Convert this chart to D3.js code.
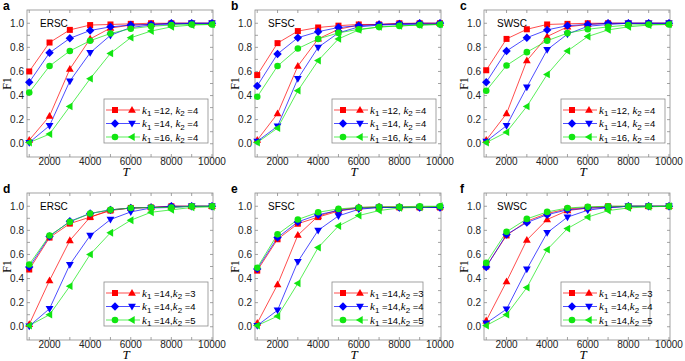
<!DOCTYPE html>
<html>
<head>
<meta charset="utf-8">
<script src="https://cdn.jsdelivr.net/npm/d3@7"></script>
<style>
  html, body { margin: 0; padding: 0; background: #fff; }
  svg { display: block; }
</style>
</head>
<body>
<div id="chart"></div>
<script>
// x values (T)
const T = [1000, 2000, 3000, 4000, 5000, 6000, 7000, 8000, 9000, 10000];
const xTickLabels = [2000, 4000, 6000, 8000, 10000];
const yTickLabels = [0, 0.2, 0.4, 0.6, 0.8, 1.0];

const panelLetters = ['a', 'b', 'c', 'd', 'e', 'f'];
const panelNames = ['ERSC', 'SFSC', 'SWSC', 'ERSC', 'SFSC', 'SWSC'];

// legend params [k1, k2] for top row / bottom row
const legendTop = [['12', '4'], ['14', '4'], ['16', '4']];
const legendBottom = [['14', '3'], ['14', '4'], ['14', '5']];

// series per panel, order: red square, red up-tri, blue diamond, blue down-tri, green circle, green left-tri
const panelA = [
    [0.60, 0.84, 0.945, 0.985, 0.99, 0.995, 1.0, 1.0, 1.0, 1.0],
    [0.03, 0.23, 0.62, 0.87, 0.96, 0.985, 0.99, 1.0, 1.0, 1.0],
    [0.51, 0.755, 0.875, 0.94, 0.97, 0.985, 0.99, 1.0, 1.0, 1.0],
    [0.01, 0.15, 0.52, 0.755, 0.90, 0.965, 0.985, 0.99, 1.0, 1.0],
    [0.425, 0.645, 0.77, 0.855, 0.915, 0.955, 0.975, 0.985, 0.99, 0.99],
    [0.01, 0.08, 0.31, 0.54, 0.75, 0.88, 0.935, 0.97, 0.985, 0.99]
];
const panelB = [
    [0.57, 0.835, 0.935, 0.965, 0.98, 0.99, 0.99, 1.0, 1.0, 1.0],
    [0.03, 0.25, 0.645, 0.87, 0.95, 0.985, 0.99, 0.995, 1.0, 1.0],
    [0.48, 0.745, 0.88, 0.93, 0.965, 0.98, 0.99, 0.995, 1.0, 1.0],
    [0.02, 0.145, 0.54, 0.80, 0.92, 0.97, 0.985, 0.99, 0.99, 0.99],
    [0.39, 0.645, 0.79, 0.87, 0.92, 0.95, 0.968, 0.978, 0.985, 0.99],
    [0.01, 0.13, 0.44, 0.69, 0.87, 0.945, 0.97, 0.978, 0.985, 0.99]
];
const panelC = [
    [0.61, 0.87, 0.95, 0.99, 0.995, 1.0, 1.0, 1.0, 1.0, 1.0],
    [0.03, 0.25, 0.69, 0.89, 0.97, 0.99, 1.0, 1.0, 1.0, 1.0],
    [0.51, 0.77, 0.88, 0.945, 0.98, 0.99, 1.0, 1.0, 1.0, 1.0],
    [0.02, 0.15, 0.47, 0.78, 0.91, 0.975, 0.99, 1.0, 1.0, 1.0],
    [0.44, 0.65, 0.76, 0.855, 0.918, 0.95, 0.97, 0.985, 0.99, 0.99],
    [0.01, 0.096, 0.31, 0.575, 0.77, 0.89, 0.945, 0.97, 0.985, 0.99]
];
const panelD = [
    [0.475, 0.74, 0.856, 0.91, 0.964, 0.986, 0.99, 1.0, 1.0, 1.0],
    [0.02, 0.384, 0.716, 0.91, 0.97, 0.985, 0.99, 1.0, 1.0, 1.0],
    [0.495, 0.75, 0.875, 0.94, 0.97, 0.985, 0.99, 1.0, 1.0, 1.0],
    [0.005, 0.15, 0.516, 0.757, 0.89, 0.953, 0.986, 0.99, 1.0, 1.0],
    [0.517, 0.757, 0.87, 0.94, 0.97, 0.985, 0.99, 0.99, 1.0, 1.0],
    [0.01, 0.10, 0.337, 0.60, 0.78, 0.884, 0.95, 0.97, 0.99, 0.995]
];
const panelE = [
    [0.466, 0.726, 0.855, 0.91, 0.96, 0.985, 0.99, 0.99, 0.99, 0.99],
    [0.03, 0.35, 0.76, 0.918, 0.97, 0.99, 0.995, 0.995, 0.995, 0.995],
    [0.48, 0.74, 0.87, 0.93, 0.965, 0.985, 0.99, 0.99, 0.99, 0.99],
    [0.01, 0.137, 0.54, 0.80, 0.92, 0.975, 0.99, 0.99, 0.99, 0.99],
    [0.49, 0.767, 0.89, 0.95, 0.978, 0.99, 0.995, 0.995, 1.0, 1.0],
    [0.01, 0.088, 0.36, 0.657, 0.836, 0.923, 0.964, 0.986, 0.99, 1.0]
];
const panelF = [
    [0.50, 0.758, 0.876, 0.94, 0.978, 0.99, 1.0, 1.0, 1.0, 1.0],
    [0.05, 0.375, 0.72, 0.89, 0.964, 0.985, 0.99, 1.0, 1.0, 1.0],
    [0.496, 0.766, 0.865, 0.93, 0.97, 0.985, 0.99, 1.0, 1.0, 1.0],
    [0.03, 0.146, 0.477, 0.78, 0.91, 0.967, 0.99, 1.0, 1.0, 1.0],
    [0.53, 0.788, 0.895, 0.953, 0.986, 0.995, 1.0, 1.0, 1.0, 1.0],
    [0.01, 0.10, 0.325, 0.64, 0.815, 0.91, 0.964, 0.986, 0.995, 1.0]
];
const panels = [panelA, panelB, panelC, panelD, panelE, panelF];

const W = 685, H = 361;
const colX = [27, 255, 484];
const rowY = [10, 193];
const pw = 186, ph = 147;
const legendW = [104, 104, 104, 104, 91, 89];

const colors = ['#ff0000', '#ff0000', '#0000ff', '#0000ff', '#11e611', '#11e611'];
const frameColor = '#8c8c8c';
const sans = "'Liberation Sans', Arial, sans-serif";
const serif = "'Liberation Serif', 'Times New Roman', serif";

// marker shapes
const triPath = (s) => `M0,${-s}L${s * 0.95},${s * 0.65}L${-s * 0.95},${s * 0.65}Z`;
const markers = [
    g => g.append('rect').attr('x', -3).attr('y', -3).attr('width', 6).attr('height', 6),
    g => g.append('path').attr('d', triPath(4.1)),
    g => g.append('path').attr('d', 'M0,-4.2L4.2,0L0,4.2L-4.2,0Z'),
    g => g.append('path').attr('d', triPath(4.1)).attr('transform', 'rotate(180)'),
    g => g.append('circle').attr('r', 3.3),
    g => g.append('path').attr('d', triPath(4.1)).attr('transform', 'rotate(-90)')
];

const svg = d3.select('#chart').append('svg')
    .attr('width', W)
    .attr('height', H);

panels.forEach((series, i) => {
    const px = colX[i % 3];
    const py = rowY[Math.floor(i / 3)];
    const x = d3.scaleLinear().domain([890, 10050]).range([px, px + pw]);
    const y = d3.scaleLinear().domain([-0.11, 1.11]).range([py + ph, py]);
    const g = svg.append('g');

    // frame
    g.append('rect')
        .attr('x', px).attr('y', py)
        .attr('width', pw).attr('height', ph)
        .attr('fill', 'none')
        .attr('stroke', frameColor)
        .attr('stroke-width', 0.8);

    // inward ticks, all four sides
    const g1 = g.append('g').attr('stroke', frameColor).attr('stroke-width', 0.8);
    T.forEach(t => {
        g1.append('line').attr('x1', x(t)).attr('x2', x(t)).attr('y1', py + ph).attr('y2', py + ph - 3);
        g1.append('line').attr('x1', x(t)).attr('x2', x(t)).attr('y1', py).attr('y2', py + 3);
    });
    d3.range(0, 11).forEach(k => {
        const v = k / 10;
        g1.append('line').attr('x1', px).attr('x2', px + 3).attr('y1', y(v)).attr('y2', y(v));
        g1.append('line').attr('x1', px + pw).attr('x2', px + pw - 3).attr('y1', y(v)).attr('y2', y(v));
    });

    // tick labels
    g.selectAll('.xl').data(xTickLabels).enter().append('text')
        .attr('x', d => x(d))
        .attr('y', py + ph + 7.5)
        .attr('text-anchor', 'middle')
        .style('font-family', sans)
        .style('font-size', '10px')
        .attr('fill', '#222')
        .text(d => d);

    g.selectAll('.yl').data(yTickLabels).enter().append('text')
        .attr('x', px - 3)
        .attr('y', d => y(d) + 3.6)
        .attr('text-anchor', 'end')
        .style('font-family', sans)
        .style('font-size', '10px')
        .attr('fill', '#222')
        .text(d => d3.format('.1f')(d));

    // axis titles
    g.append('text')
        .attr('transform', `translate(${px - 16.5},${py + ph / 2}) rotate(-90)`)
        .attr('text-anchor', 'middle')
        .style('font-family', serif)
        .style('font-size', '12px')
        .text('F1');

    g.append('text')
        .attr('x', px + pw / 2 + 6)
        .attr('y', py + ph + 18.5)
        .attr('text-anchor', 'middle')
        .style('font-family', serif)
        .style('font-style', 'italic')
        .style('font-size', '13px')
        .text('T');

    // panel letter and network name
    g.append('text')
        .attr('x', px - 24)
        .attr('y', py - 0.5)
        .style('font-family', sans)
        .style('font-weight', 'bold')
        .style('font-size', '12px')
        .text(panelLetters[i]);

    g.append('text')
        .attr('x', px + 13)
        .attr('y', py + 17)
        .style('font-family', sans)
        .style('font-size', '10px')
        .text(panelNames[i]);

    // series
    const line = d3.line().x((d, j) => x(T[j])).y(d => y(d));
    series.forEach((vals, s) => {
        g.append('path')
            .attr('d', line(vals))
            .attr('fill', 'none')
            .attr('stroke', colors[s])
            .attr('stroke-width', 0.7);
    });
    series.forEach((vals, s) => {
        vals.forEach((v, j) => {
            const m = g.append('g')
                .attr('transform', `translate(${x(T[j])},${y(v)})`)
                .attr('fill', colors[s]);
            markers[s](m);
        });
    });

    // legend
    const lx = px + 77, ly = py + 89;
    const lg = g.append('g').attr('transform', `translate(${lx},${ly})`);
    lg.append('rect')
        .attr('width', legendW[i]).attr('height', 44)
        .attr('fill', '#fff')
        .attr('stroke', frameColor)
        .attr('stroke-width', 0.8);

    const labels = i < 3 ? legendTop : legendBottom;
    const sep = i < 3 ? ', ' : ',';
    labels.forEach((lab, r) => {
        const ry = 11 + r * 13.5;
        lg.append('line')
            .attr('x1', 2).attr('x2', 36)
            .attr('y1', ry).attr('y2', ry)
            .attr('stroke', colors[r * 2])
            .attr('stroke-width', 0.7);
        [0, 1].forEach(k => {
            const m = lg.append('g')
                .attr('transform', `translate(${k === 0 ? 11 : 28},${ry})`)
                .attr('fill', colors[r * 2]);
            markers[r * 2 + k](m);
        });
        const t = lg.append('text')
            .attr('x', 38)
            .attr('y', ry + 3.5)
            .style('font-size', '9.5px')
            .style('font-family', sans);
        t.append('tspan').style('font-family', serif).style('font-style', 'italic').style('font-size', '11px').text('k');
        t.append('tspan').attr('dy', 2.5).style('font-size', '8px').text('1');
        t.append('tspan').attr('dy', -2.5).text(` =${lab[0]}${sep}`);
        t.append('tspan').style('font-family', serif).style('font-style', 'italic').style('font-size', '11px').text('k');
        t.append('tspan').attr('dy', 2.5).style('font-size', '8px').text('2');
        t.append('tspan').attr('dy', -2.5).text(` =${lab[1]}`);
    });
});
</script>
</body>
</html>
